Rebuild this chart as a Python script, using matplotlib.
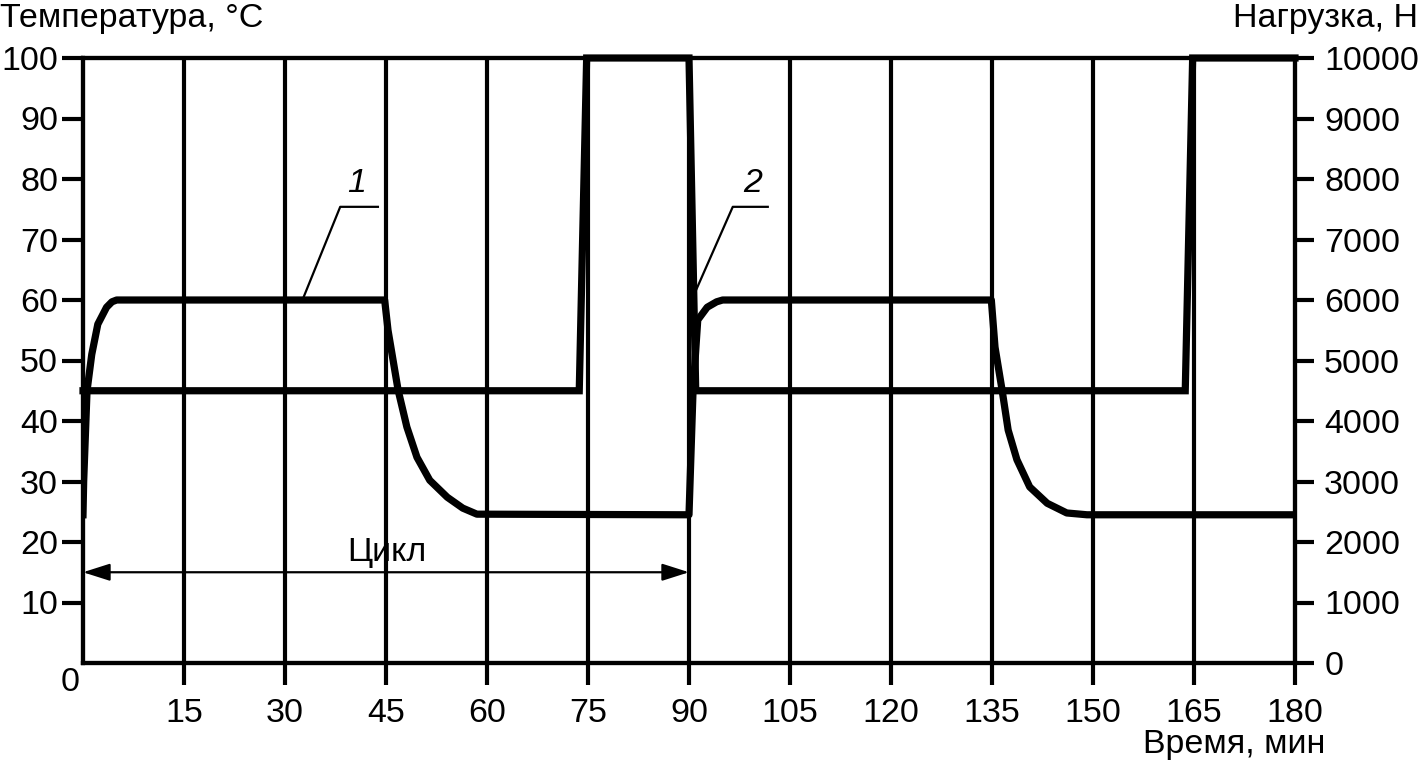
import matplotlib.pyplot as plt
from matplotlib.patches import ArrowStyle

# temperature curve 1, deg C
t_temp = [0, 0.1, 0.6, 1.3, 2.2, 3.5, 4.3, 5, 44.8, 45.3, 46.8, 48.1, 49.6, 51.5, 54.1, 56.4, 58.5,
          90, 90.6, 91.3, 92.7, 94.1, 95, 134.9, 135.45, 136.5, 137.4, 138.7, 140.6, 143.2, 146.1, 149.1, 180]
temp = [24.5, 30, 45, 51, 56, 58.8, 59.7, 60, 60, 55.0, 45.1, 39.0, 34.0, 30.2, 27.4, 25.6, 24.6,
        24.5, 45, 56.7, 58.8, 59.7, 60, 60, 52.2, 45.1, 38.5, 33.6, 29.1, 26.4, 24.8, 24.5, 24.5]

# load curve 2, N
t_load = [0, 73.7, 74.8, 90, 91, 163.7, 164.8, 180]
load = [4500, 4500, 10000, 10000, 4500, 4500, 10000, 10000]

x_ticks = list(range(15, 181, 15))
left_ticks = list(range(10, 101, 10))
right_ticks = list(range(0, 10001, 1000))

plt.rcParams['font.family'] = ['Liberation Sans', 'DejaVu Sans']
fs = 24.5

fig = plt.figure(figsize=(14.23, 7.67), dpi=100)
ax = fig.add_axes([83/1423, 1-663/767, (1295-83)/1423, (663-58)/767])
ax2 = ax.twinx()

ax.set_xlim(0, 180)
ax.set_ylim(0, 100)
ax2.set_ylim(0, 10000)

for x in x_ticks[:-1]:
    ax.axvline(x, color='black', lw=3, zorder=1)

ax.plot(t_temp, temp, color='black', lw=5.2, solid_joinstyle='round', zorder=3)
ax2.plot(t_load, load, color='black', lw=5.2, solid_joinstyle='miter', zorder=3, clip_on=False)

for a in (ax, ax2):
    for s in a.spines.values():
        s.set_linewidth(3)

ax.set_xticks(x_ticks)
ax.set_yticks(left_ticks)
ax.tick_params(axis='x', length=16, width=3, pad=9, labelsize=fs)
ax.tick_params(axis='y', length=15, width=3, pad=3, labelsize=fs)
ax2.set_yticks(right_ticks)
ax2.tick_params(axis='y', length=14, width=3, pad=7, labelsize=fs)

ax.text(-1.9, -3.3, '0', fontsize=fs, ha='center', va='center', clip_on=False)

# leaders
ax.plot([32.7, 38.2, 43.8], [60.3, 75.4, 75.4], color='black', lw=1.6, zorder=4)
ax.text(40.7, 79.3, '1', fontsize=fs, style='italic', ha='center', va='center')
ax.plot([90.6, 96.5, 101.7], [60.5, 75.4, 75.4], color='black', lw=1.6, zorder=4)
ax.text(99.5, 79.3, '2', fontsize=fs, style='italic', ha='center', va='center')

# cycle arrow
ax.annotate('', xy=(0, 15), xytext=(90, 15),
            arrowprops=dict(arrowstyle=ArrowStyle('<|-|>', head_length=1.1, head_width=0.35),
                            color='black', lw=1.6, shrinkA=0, shrinkB=0, mutation_scale=15))
ax.text(45.1, 18.3, 'Цикл', fontsize=fs, ha='center', va='center')

fig.text(0/1423, 1-18/767, 'Температура, °C', fontsize=fs, ha='left', va='center')
fig.text(1418/1423, 1-18/767, 'Нагрузка, Н', fontsize=fs, ha='right', va='center')
fig.text(1325/1423, 1-745/767, 'Время, мин', fontsize=fs, ha='right', va='center')

fig.savefig('out.png', dpi=100)
